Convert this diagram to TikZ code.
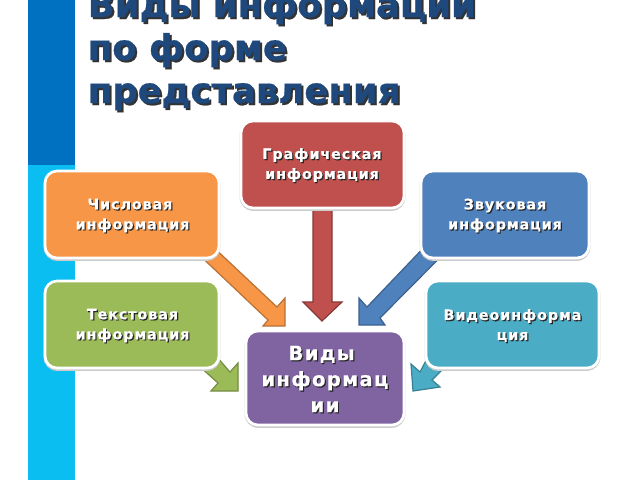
\documentclass[tikz,border=0pt]{standalone}
\usepackage{fontspec}
\setmainfont{DejaVu Sans}
\newfontfamily\lblfont[LetterSpace=6,FakeBold=0.25]{DejaVu Sans Bold}
\newfontfamily\ttlfont[FakeBold=0.5]{DejaVu Sans Bold}
\usetikzlibrary{calc}
\definecolor{bandDark}{HTML}{0070C0}
\definecolor{bandLight}{HTML}{0ABEF2}
\definecolor{cRed}{HTML}{C0504D}
\definecolor{cOrange}{HTML}{F79646}
\definecolor{cBlue}{HTML}{4F81BD}
\definecolor{cGreen}{HTML}{9BBB59}
\definecolor{cTeal}{HTML}{4BACC6}
\definecolor{cPurple}{HTML}{8064A2}
\definecolor{cTitle}{HTML}{1F497D}
\tikzset{
  x=0.75pt,y=-0.75pt,
  boxnode/.style={rectangle,rounded corners=9pt,draw=white,line width=2pt,inner sep=0pt,
    minimum width=#1},
  boxshadow/.style={rectangle,rounded corners=10pt,fill=black!20,inner sep=0pt,minimum width=#1},
  blockarrow/.style={line width=0.9pt,line join=miter},
  lbl/.style={align=center,inner sep=0pt,font=\lblfont\fontsize{10.8}{15}\selectfont},
  biglbl/.style={align=center,inner sep=0pt,font=\lblfont\fontsize{14.8}{19.5}\selectfont},
  ttl/.style={anchor=base west,inner sep=0pt,font=\ttlfont\fontsize{26.6}{30}\selectfont}
}
% name, centre, width, height, colour
\newcommand{\infobox}[5]{%
  \node[boxshadow=#3*0.75pt+2pt,minimum height=#4*0.75pt+2pt] (#1s) at ($#2+(0,1.5)$) {};
  \node[boxnode=#3*0.75pt,minimum height=#4*0.75pt,fill=#5] (#1) at #2 {};}
% name, style, position, text
\newcommand{\shlabel}[4]{%
  \node[#2,text=black!85] (#1s) at ($#3+(1.2,1.2)$) {#4};
  \node[#2,text=white] (#1) at #3 {#4};}
\begin{document}
\begin{tikzpicture}
\useasboundingbox (0,0) rectangle (640,480);
\fill[white] (0,0) rectangle (640,480);
\fill[bandDark] (27.5,0) rectangle (74.5,164.5);
\fill[bandLight] (27.5,164.5) rectangle (74.5,480);

% positions of boxes, declared first so that the arrows can lie beneath them
\path (322.5,164.5) coordinate (pRed)
      (132,214.5) coordinate (pOrange)
      (505,214.5) coordinate (pBlue)
      (132,324.5) coordinate (pGreen)
      (512.5,324.5) coordinate (pTeal)
      (325,378) coordinate (pPurple);

% block arrows
\draw[blockarrow,fill=cRed,draw=cRed!70!black]
  ($(pRed)+(-9.5,40)$) -- ($(pPurple)+(-12,-76)$) -- ($(pPurple)+(-22,-76)$) -- ($(pPurple)+(-3,-57)$)
  -- ($(pPurple)+(17,-76)$) -- ($(pPurple)+(7,-76)$) -- ($(pRed)+(9.5,40)$) -- cycle;
\draw[blockarrow,fill=cOrange,draw=cOrange!75!black]
  ($(pOrange)+(71,44)$) -- ($(pPurple)+(-57,-58)$) -- ($(pPurple)+(-62,-52)$) -- ($(pPurple)+(-40,-52)$)
  -- ($(pPurple)+(-40,-80)$) -- ($(pPurple)+(-48,-71)$) -- ($(pOrange)+(86,37)$) -- cycle;
\draw[blockarrow,fill=cBlue,draw=cBlue!75!black]
  ($(pBlue)+(-67,45)$) -- ($(pPurple)+(55,-60)$) -- ($(pPurple)+(60,-53)$) -- ($(pPurple)+(34,-53)$)
  -- ($(pPurple)+(34,-80)$) -- ($(pPurple)+(42,-71)$) -- ($(pBlue)+(-85,37)$) -- cycle;
\draw[blockarrow,fill=cGreen,draw=cGreen!75!black]
  ($(pGreen)+(71,45)$) -- ($(pPurple)+(-107,5)$) -- ($(pPurple)+(-114,13)$) -- ($(pPurple)+(-87,13)$)
  -- ($(pPurple)+(-87,-15)$) -- ($(pPurple)+(-95,-6)$) -- ($(pGreen)+(88,36)$) -- cycle;
\draw[blockarrow,fill=cTeal,draw=cTeal!75!black]
  ($(pTeal)+(-70,45)$) -- ($(pPurple)+(107,2)$) -- ($(pPurple)+(115,9)$) -- ($(pPurple)+(88,13)$)
  -- ($(pPurple)+(86,-14)$) -- ($(pPurple)+(95,-6)$) -- ($(pTeal)+(-87,37)$) -- cycle;

% boxes
\infobox{red}{(pRed)}{163}{87}{cRed}
\infobox{orange}{(pOrange)}{174}{87}{cOrange}
\infobox{blue}{(pBlue)}{168}{87}{cBlue}
\infobox{green}{(pGreen)}{174}{87}{cGreen}
\infobox{teal}{(pTeal)}{173}{87}{cTeal}
\infobox{purple}{(pPurple)}{158}{94}{cPurple}

% labels
\shlabel{tRed}{lbl}{(322,165)}{Графическая\\информация}
\shlabel{tOrange}{lbl}{(132.5,215.5)}{Числовая\hspace*{0.35em}\\информация}
\shlabel{tBlue}{lbl}{(505,215.5)}{Звуковая\\информация}
\shlabel{tGreen}{lbl}{(132.5,325.5)}{Текстовая\\информация}
\shlabel{tTeal}{lbl}{(512.5,325.5)}{Видеоинформа\\ция}
\shlabel{tPurple}{biglbl}{(325,379)}{Виды\hspace*{0.35em}\\информац\\ии}

% title
\foreach \tx/\ty/\tc/\tn in {2/2/black!80/s,0/0/cTitle/m}{
  \node[ttl,text=\tc] (title1\tn) at (87.5+\tx,17+\ty) {Виды информации};
  \node[ttl,text=\tc] (title2\tn) at (87.5+\tx,60+\ty) {по форме};
  \node[ttl,text=\tc] (title3\tn) at (87.5+\tx,103+\ty) {представления};
}
\end{tikzpicture}
\end{document}
